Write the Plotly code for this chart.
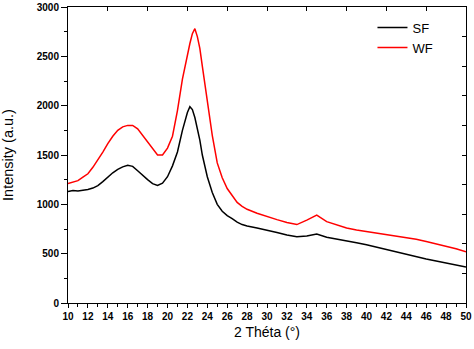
import plotly.graph_objects as go

# 2-theta positions (degrees)
two_theta = [10, 10.5, 11, 11.5, 12, 12.5, 13, 13.5, 14, 14.5, 15, 15.5, 16, 16.5, 17, 17.5,
             18, 18.5, 19, 19.5, 20, 20.5, 21, 21.5, 22, 22.25, 22.5, 22.75, 23, 23.25, 23.5,
             23.75, 24, 24.5, 25, 25.5, 26, 26.5, 27, 27.5, 28, 29, 30, 31, 32, 33, 34, 35, 36,
             37, 38, 39, 40, 41, 42, 43, 44, 45, 46, 47, 48, 49, 50]

sf = [1130, 1140, 1135, 1140, 1150, 1165, 1190, 1230, 1280, 1320, 1355, 1380, 1395, 1385, 1340, 1290,
      1250, 1210, 1192, 1215, 1280, 1390, 1530, 1750, 1930, 1990, 1960, 1880, 1770, 1650, 1500,
      1380, 1280, 1120, 1000, 930, 885, 855, 820, 795, 780, 760, 740, 715, 690, 672, 680, 700, 667,
      650, 633, 610, 590, 565, 540, 515, 490, 468, 445, 425, 405, 385, 365]

wf = [1210, 1225, 1240, 1275, 1310, 1375, 1450, 1530, 1615, 1690, 1750, 1785, 1800, 1800, 1765, 1700,
      1630, 1560, 1500, 1500, 1570, 1690, 1950, 2270, 2520, 2630, 2730, 2780, 2700, 2580, 2400,
      2230, 2050, 1700, 1420, 1270, 1160, 1085, 1020, 980, 950, 910, 875, 845, 815, 795, 840, 890, 825,
      790, 760, 740, 725, 705, 690, 680, 667, 645, 623, 600, 573, 550, 520]

x_ticks = [10, 12, 14, 16, 18, 20, 22, 24, 26, 28, 30, 32, 34, 36, 38, 40, 42, 44, 46, 48, 50]
y_ticks = [0, 500, 1000, 1500, 2000, 2500, 3000]

FONT = "Liberation Sans"

fig = go.Figure()
fig.add_trace(go.Scatter(x=two_theta, y=sf, mode="lines", name="SF",
                         line=dict(color="black", width=1.5)))
fig.add_trace(go.Scatter(x=two_theta, y=wf, mode="lines", name="WF",
                         line=dict(color="red", width=1.5)))
# dummy trace for mirrored top/right axes
fig.add_trace(go.Scatter(x=[None], y=[None], xaxis="x2", yaxis="y2",
                         showlegend=False, hoverinfo="skip"))

tickfont = dict(family=FONT, size=10, color="black", weight="bold")

fig.update_layout(
    width=474, height=349,
    margin=dict(l=68, r=8, t=7, b=46, autoexpand=False),
    paper_bgcolor="white", plot_bgcolor="white",
    font=dict(family=FONT, color="black"),
    showlegend=True,
    legend=dict(x=0.765, y=0.981, xanchor="left", yanchor="top",
                bgcolor="rgba(0,0,0,0)", font=dict(family=FONT, size=13, color="black"),
                tracegroupgap=0, itemwidth=30),
    xaxis=dict(range=[10, 50], tickvals=x_ticks, ticktext=[str(v) for v in x_ticks],
               ticks="outside", ticklen=4, tickwidth=1, tickcolor="black",
               minor=dict(dtick=1, tick0=10, ticks="outside", ticklen=3, tickcolor="black"),
               showline=True, linecolor="black", linewidth=1, showgrid=False, zeroline=False,
               tickfont=tickfont, automargin=False,
               title=dict(text="2 Théta (°)", font=dict(family=FONT, size=14, color="black"),
                          standoff=6)),
    yaxis=dict(range=[0, 3000], tickvals=y_ticks, ticktext=[str(v) for v in y_ticks],
               ticks="outside", ticklen=6, tickwidth=1, tickcolor="black",
               minor=dict(dtick=250, tick0=0, ticks="outside", ticklen=3, tickcolor="black"),
               showline=True, linecolor="black", linewidth=1, showgrid=False, zeroline=False,
               tickfont=tickfont, automargin=False,
               title=dict(text="Intensity (a.u.)", font=dict(family=FONT, size=14.5, color="black"),
                          standoff=21)),
    xaxis2=dict(range=[10, 50], overlaying="x", side="top", anchor="y",
                tick0=10, dtick=4, ticks="inside", ticklen=4, tickcolor="black",
                showticklabels=False, showline=True, linecolor="black", linewidth=1,
                showgrid=False, zeroline=False, automargin=False),
    yaxis2=dict(range=[0, 3000], overlaying="y", side="right", anchor="x",
                tick0=0, dtick=300, ticks="inside", ticklen=4, tickcolor="black",
                showticklabels=False, showline=True, linecolor="black", linewidth=1,
                showgrid=False, zeroline=False, automargin=False),
)

fig.write_html("out.html")
